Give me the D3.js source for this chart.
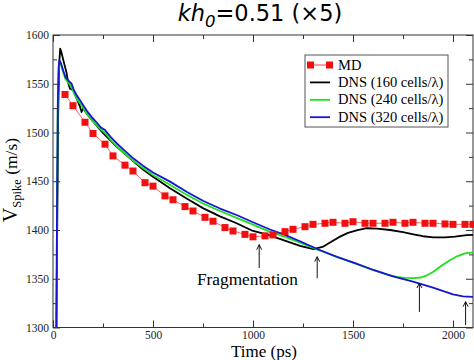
<!DOCTYPE html>
<html><head><meta charset="utf-8">
<script src="https://cdn.jsdelivr.net/npm/d3@7"></script>
<style>
html,body{margin:0;padding:0;background:#fff;}
svg{display:block;}
</style>
</head><body>
<svg id="chart" width="474" height="360"></svg>
<script>
// ---------------- DATA ----------------
const xTicks = [0, 500, 1000, 1500, 2000];
const xMinorTicks = [250, 750, 1250, 1750];
const yTicks = [1300, 1350, 1400, 1450, 1500, 1550, 1600];
const yMinorTicks = [1325, 1375, 1425, 1475, 1525, 1575];

const mdTime = [60,100,160,200,260,300,360,400,460,500,560,600,660,700,760,800,860,900,960,1000,1060,1100,1160,1200,1260,1300,1360,1400,1460,1500,1560,1600,1660,1700,1760,1800,1860,1900,1960,2000,2060,2100];
const mdV = [1539,1527.5,1510.5,1499,1488,1476,1466.5,1460.5,1448.5,1445,1435,1431,1424,1419.5,1413,1409,1402.5,1399,1395.5,1393,1394,1395,1398.3,1400.7,1403.4,1405.8,1406.9,1407.9,1406.9,1408.5,1406.9,1406.9,1406.9,1407.9,1406.9,1407.9,1406.9,1406.9,1406.2,1405.8,1405.8,1405.8];

const dns160Time = [17,21,26,31,36,41,52,68,77,85,102,118,135,143,151,168,201,252,318,385,450,500,585,670,752,835,918,1000,1068,1152,1235,1302,1352,1400,1435,1475,1518,1568,1620,1685,1750,1802,1850,1902,1960,2010,2068,2100];
const dns160V = [1300,1400,1520,1570,1586,1583,1574,1561,1550,1545,1543.5,1535,1526.5,1521,1525,1519.5,1511,1499,1485.5,1473.5,1462,1454.5,1442.8,1432,1422.2,1414,1406.9,1399,1395.5,1389.7,1383.8,1380.5,1383,1389,1393.2,1397,1399.5,1401.8,1401.5,1400,1397.8,1395.6,1393.6,1392.5,1392.4,1393.2,1394.8,1395];

const dns240Time = [17,20,24,28,32,40,52,62,76,93,105,118,135,151,170,193,215,240,260,290,318,350,401,450,500,585,670,752,835,918,1000,1085,1160,1235,1327,1420,1510,1602,1680,1720,1760,1800,1840,1870,1900,1940,1980,2020,2060,2100];
const dns240V = [1300,1415,1525,1562,1571,1569,1561,1555,1551,1547,1540,1535,1530,1525,1519,1513,1508,1503,1499.5,1492,1486,1480,1471,1463.5,1456.5,1446.5,1436,1427,1419.5,1412.5,1405.5,1398,1393,1387,1379.5,1372.3,1365.8,1358.8,1353.6,1351.8,1350.8,1350.6,1351.3,1353.5,1357,1363,1368.5,1373,1376,1377];

const dns320Time = [17,20,24,28,32,40,52,62,76,93,105,118,135,151,170,193,215,240,260,290,318,350,401,450,500,585,670,752,835,918,1000,1085,1160,1235,1327,1420,1510,1602,1700,1800,1900,2000,2050,2100];
const dns320V = [1300,1420,1530,1566,1574,1571,1563,1557,1553.5,1550,1543,1538.5,1533,1528,1522,1516,1511,1505,1502.5,1495,1489,1483,1473.5,1466,1459,1449.6,1439,1429.7,1422,1415.4,1408,1400.5,1395,1388.5,1380,1372.5,1366,1359,1352.5,1347,1341,1334,1332,1331.5];

const seriesNames = ["MD", "DNS (160 cells/\u03bb)", "DNS (240 cells/\u03bb)", "DNS (320 cells/\u03bb)"];

// fragmentation arrows (time, from V, to V)
const arrowTime = [1031, 1321, 1832, 2063];
const arrowFromV = [1361, 1350.5, 1316, 1302.6];
const arrowToV = [1385, 1372.6, 1345.6, 1326.5];
const noteText = "Fragmentation";
const noteTime = 720, noteV = 1343.6;

// ---------------- CHART ----------------
const svg = d3.select("#chart");
const L = 53, R = 473, T = 35, B = 327.5;
const x = d3.scaleLinear().domain([0, 2100]).range([L, R]);
const y = d3.scaleLinear().domain([1300, 1600]).range([B, T]);

const serif = "'Liberation Serif','Times New Roman',serif";
const colors = {md: "#f01010", k: "#000000", g: "#1fe01f", b: "#1616d0"};

// Title
const title = svg.append("text")
  .attr("x", 260).attr("y", 21)
  .attr("text-anchor", "middle")
  .style("font-family", "'DejaVu Sans', sans-serif")
  .style("font-size", "22.5px")
  .attr("fill", "#000");
title.append("tspan").style("font-style", "italic").text("kh");
title.append("tspan").style("font-style", "italic").style("font-size", "16.5px").attr("dy", 5.5).text("0");
title.append("tspan").attr("dy", -5.5).text("=0.51 (\u00d75)");

// axes (inward ticks)
function styleAxis(g) {
  g.select(".domain").remove();
  g.selectAll(".tick line").attr("stroke", "#333").attr("stroke-width", 1);
  g.selectAll(".tick text").style("font-family", serif).style("font-size", "11.5px").attr("fill", "#222");
}
svg.append("g").attr("transform", `translate(0,${B})`)
  .call(d3.axisBottom(x).tickValues(xTicks).tickSize(-7).tickPadding(3.5).tickFormat(d3.format("d")))
  .call(styleAxis);
svg.append("g").attr("transform", `translate(0,${B})`)
  .call(d3.axisBottom(x).tickValues(xMinorTicks).tickSize(-4).tickFormat(""))
  .call(styleAxis);
svg.append("g").attr("transform", `translate(0,${T})`)
  .call(d3.axisTop(x).tickValues(xTicks).tickSize(-7).tickFormat(""))
  .call(styleAxis);
svg.append("g").attr("transform", `translate(0,${T})`)
  .call(d3.axisTop(x).tickValues(xMinorTicks).tickSize(-4).tickFormat(""))
  .call(styleAxis);
svg.append("g").attr("transform", `translate(${L},0)`)
  .call(d3.axisLeft(y).tickValues(yTicks).tickSize(-7).tickPadding(4).tickFormat(d3.format("d")))
  .call(styleAxis);
svg.append("g").attr("transform", `translate(${L},0)`)
  .call(d3.axisLeft(y).tickValues(yMinorTicks).tickSize(-4).tickFormat(""))
  .call(styleAxis);
svg.append("g").attr("transform", `translate(${R},0)`)
  .call(d3.axisRight(y).tickValues(yTicks).tickSize(-7).tickFormat(""))
  .call(styleAxis);
svg.append("g").attr("transform", `translate(${R},0)`)
  .call(d3.axisRight(y).tickValues(yMinorTicks).tickSize(-4).tickFormat(""))
  .call(styleAxis);

// frame
svg.append("rect").attr("x", L).attr("y", T).attr("width", R - L).attr("height", B - T)
  .attr("fill", "none").attr("stroke", "#333").attr("stroke-width", 1);

// axis labels
svg.append("text").attr("x", (L + R) / 2 + 1).attr("y", 357).attr("text-anchor", "middle")
  .style("font-family", serif).style("font-size", "17px").attr("fill", "#000").text("Time (ps)");
const yl = svg.append("text").attr("transform", "translate(16.5,180) rotate(-90)").attr("text-anchor", "middle")
  .style("font-family", serif).style("font-size", "17.5px").attr("fill", "#000");
yl.append("tspan").style("font-size", "20px").text("V");
yl.append("tspan").style("font-size", "12.5px").attr("dy", 4).text("Spike");
yl.append("tspan").attr("dy", -4).text(" (m/s)");

// clip
svg.append("clipPath").attr("id", "clip").append("rect")
  .attr("x", L).attr("y", T).attr("width", R - L).attr("height", B - T);
const plot = svg.append("g").attr("clip-path", "url(#clip)");

const line = d3.line().x(d => x(d[0])).y(d => y(d[1]));
const zip = (a, b) => a.map((t, i) => [t, b[i]]);

// MD
const mdData = zip(mdTime, mdV);
svg.append("path").datum(mdData).attr("d", line)
  .attr("fill", "none").attr("stroke", colors.md).attr("stroke-width", 0.8).attr("opacity", 0.8);
svg.append("g").selectAll("rect").data(mdData).join("rect")
  .attr("x", d => x(d[0]) - 3.5).attr("y", d => y(d[1]) - 3.5)
  .attr("width", 7).attr("height", 7).attr("fill", colors.md);

// DNS lines
[[dns160Time, dns160V, colors.k], [dns240Time, dns240V, colors.g], [dns320Time, dns320V, colors.b]].forEach(([t, v, c]) => {
  plot.append("path").datum(zip(t, v)).attr("d", line)
    .attr("fill", "none").attr("stroke", c).attr("stroke-width", 1.8).attr("stroke-linejoin", "round");
});

// arrows
arrowTime.forEach((t, i) => {
  const ax = x(t), y0 = y(arrowFromV[i]), y1 = y(arrowToV[i]);
  const g = svg.append("g").attr("stroke", "#111").attr("stroke-width", 1).attr("fill", "none");
  g.append("line").attr("x1", ax).attr("x2", ax).attr("y1", y0).attr("y2", y1);
  g.append("path").attr("d", `M${ax - 2.5},${y1 + 5} L${ax},${y1} L${ax + 2.5},${y1 + 5}`);
});
svg.append("text").attr("x", x(noteTime)).attr("y", y(noteV))
  .style("font-family", serif).style("font-size", "17.3px").attr("fill", "#000").text(noteText);

// legend
const lg = svg.append("g");
lg.append("rect").attr("x", 305).attr("y", 55).attr("width", 143).attr("height", 72)
  .attr("fill", "#fff").attr("stroke", "#555").attr("stroke-width", 1);
const legendColors = [colors.md, colors.k, colors.g, colors.b];
seriesNames.forEach((name, i) => {
  const yy = 65 + i * 17.4;
  lg.append("line").attr("x1", 310).attr("x2", 330).attr("y1", yy).attr("y2", yy)
    .attr("stroke", legendColors[i]).attr("stroke-width", i === 0 ? 0.8 : 1.8);
  if (i === 0) {
    [310.5, 329.5].forEach(sx => lg.append("rect").attr("x", sx - 3.5).attr("y", yy - 3.5)
      .attr("width", 7).attr("height", 7).attr("fill", colors.md));
  }
  lg.append("text").attr("x", 338).attr("y", yy + 4.5)
    .style("font-family", serif).style("font-size", "14.5px").attr("fill", "#000").text(name);
});
</script>
</body></html>
